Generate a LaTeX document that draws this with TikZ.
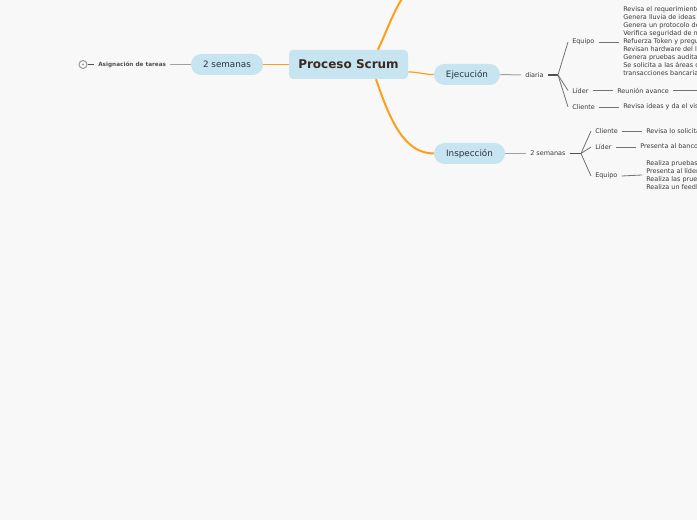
\documentclass[tikz,border=0pt]{standalone}
\usepackage{fontspec}
\setmainfont{DejaVu Sans}
\definecolor{bgc}{RGB}{248,248,248}
\definecolor{nodefill}{RGB}{198,229,240}
\definecolor{orangeline}{RGB}{255,158,27}
\definecolor{greyline}{RGB}{160,160,160}
\definecolor{darkline}{RGB}{80,80,80}
\definecolor{txt}{RGB}{58,58,58}
\definecolor{roottxt}{RGB}{59,42,32}
\definecolor{nodetxt}{RGB}{40,52,62}
\tikzset{
  rootbox/.style={fill=nodefill, rounded corners=3pt, minimum width=89.25pt, minimum height=21.75pt, inner sep=0pt, text=roottxt, font=\bfseries\fontsize{9}{10}\selectfont},
  pill/.style={fill=nodefill, rounded corners=7.8pt, minimum height=15.75pt, inner sep=0pt, text=nodetxt, font=\fontsize{6.6}{7.5}\selectfont},
  lbl/.style={anchor=west, inner xsep=3pt, inner ysep=1pt, text=txt, font=\fontsize{4.85}{6}\selectfont, align=left},
  boldlbl/.style={lbl, text=darkline, font=\bfseries\fontsize{4.3}{5}\selectfont},
  orangebranch/.style={draw=orangeline, line width=1.5pt},
  orangethin/.style={draw=orangeline, line width=0.9pt},
  greyconn/.style={draw=greyline, line width=0.75pt},
  darkconn/.style={draw=darkline, line width=1.1pt},
  fork/.style={draw=darkline!80, line width=0.6pt},
}
\begin{document}
\begin{tikzpicture}[x=0.75pt,y=-0.75pt]
\useasboundingbox (0,0) rectangle (697,520);
\fill[bgc] (0,0) rectangle (697,520);
\clip (0,0) rectangle (697,520);

% main nodes
\node[rootbox] (root) at (348.5,64.5) {Proceso Scrum};
\node[pill, minimum width=54pt] (sem) at (227,64.5) {2 semanas};
\node[pill, minimum width=49.5pt] (eje) at (467,74.5) {Ejecución};
\node[pill, minimum width=53.25pt] (ins) at (469.5,153.5) {Inspección};
\coordinate (topend) at (436,-25);

% orange connectors
\draw[orangebranch] ([xshift=22pt]root.north) .. controls (392,21) and (404,-25) .. (topend);
\draw[orangebranch] ([xshift=20.6pt]root.south) .. controls (390,120) and (404,153.5) .. (ins.west);
\draw[orangethin] ([yshift=-5.6pt]root.east) to[out=0,in=180] (eje.west);
\draw[orangethin] (root.west) -- (sem.east);

% left branch
\node[draw=greyline, line width=0.8pt, circle, minimum size=6pt, inner sep=0pt] (coll) at (83,64.5) {};
\fill[greyline] (coll.center) circle (0.9pt);
\node[boldlbl] (asig) at (94,64.5) {Asignación de tareas};
\draw[greyconn] (sem.west) -- (asig.east);
\draw[darkline, line width=0.75pt] (coll.east) -- (asig.west);

% Ejecución branch
\node[lbl] (diaria) at (521,75) {diaria};
\coordinate (j1) at (558,75);
\draw[greyconn] (eje.east) -- (diaria.west);
\draw[darkconn] (diaria.east) -- (j1);
\node[lbl] (equipo1) at (568,42) {Equipo};
\node[lbl] (lider1) at (568,90.5) {Líder};
\node[lbl] (cliente1) at (568,107) {Cliente};
\draw[fork] (j1) -- (equipo1.west);
\draw[fork] (j1) -- (lider1.west);
\draw[fork] (j1) -- (cliente1.west);
\node[lbl] (eqtext) at (619,42) {Revisa el requerimiento del cliente\\Genera lluvia de ideas para la solución\\Genera un protocolo de seguridad\\Verifica seguridad de navegación\\Refuerza Token y preguntas de seguridad\\Revisan hardware del lugar\\Genera pruebas auditables\\Se solicita a las áreas de seguridad\\transacciones bancarias seguras};
\draw[fork] (equipo1.east) -- (eqtext.west);
\node[lbl] (reunion) at (613,90.5) {Reunión avance};
\coordinate (reunend) at (710,90.5);
\draw[fork] (lider1.east) -- (reunion.west);
\draw[fork] (reunion.east) -- (reunend);
\node[lbl] (clitext) at (619,107) {Revisa ideas y da el visto bueno};
\draw[fork] (cliente1.east) -- (clitext.west);

% Inspección branch
\node[lbl] (sem2) at (526,153.5) {2 semanas};
\coordinate (j2) at (581,153.5);
\draw[greyconn] (ins.east) -- (sem2.west);
\draw[darkconn] (sem2.east) -- (j2);
\node[lbl] (cliente2) at (591,131) {Cliente};
\node[lbl] (lider2) at (591,147) {Líder};
\node[lbl] (equipo2) at (591,176) {Equipo};
\draw[fork] (j2) -- (cliente2.west);
\draw[fork] (j2) -- (lider2.west);
\draw[fork] (j2) -- (equipo2.west);
\node[lbl] (clitext2) at (642,131) {Revisa lo solicitado};
\node[lbl] (lidtext2) at (636,147) {Presenta al banco el producto};
\node[lbl] (eqtext2) at (642,175) {Realiza pruebas finales\\Presenta al líder los resultados\\Realiza las pruebas con el cliente\\Realiza un feedback};
\draw[fork] (cliente2.east) -- (clitext2.west);
\draw[fork] (lider2.east) -- (lidtext2.west);
\draw[fork] (equipo2.east) -- (eqtext2.west);
\end{tikzpicture}
\end{document}
